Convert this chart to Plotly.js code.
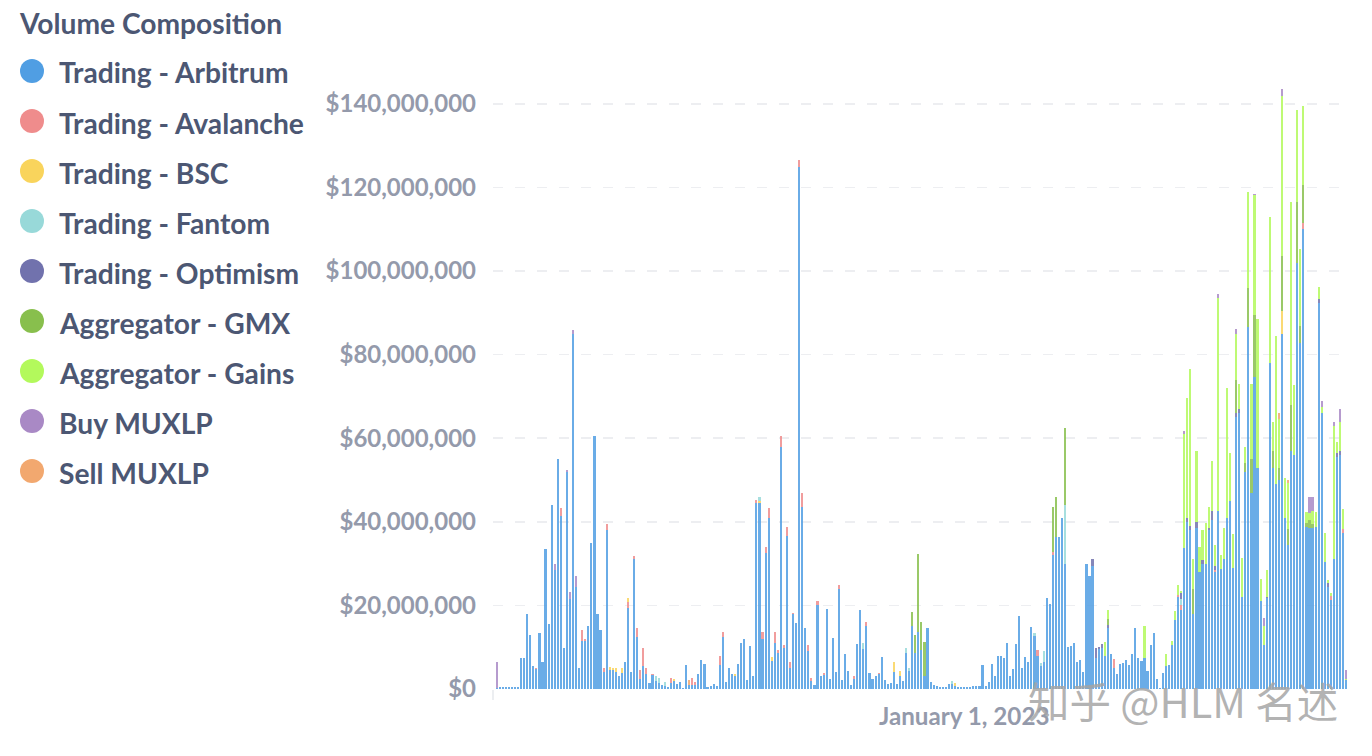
<!DOCTYPE html>
<html><head><meta charset="utf-8">
<script src="https://cdn.plot.ly/plotly-3.0.1.min.js"></script>
<style>html,body{margin:0;padding:0;background:#fff}#c{width:1372px;height:756px}</style></head>
<body><div id="c"></div>
<script>
const seriesNames=["Trading - Arbitrum","Trading - Avalanche","Trading - BSC","Trading - Fantom","Trading - Optimism","Aggregator - GMX","Aggregator - Gains","Buy MUXLP","Sell MUXLP"];
const seriesColors=["#509EE3","#EF8C8C","#F9D45C","#98D9D9","#7172AD","#88BF4D","#B3F95C","#A989C5","#F2A86F"];
const legendTitle="Volume Composition";
const yTicks=[0,20,40,60,80,100,120,140];
const firstDay="2022-08-01";
const xTickDay="2023-01-01", xTickLabel="January 1, 2023";
const watermark="知乎 @HLM 名述";

// daily volume in $M
const arbitrum=[
.3,.5,.5,.5,.5,.5,.5,.5,7.5,7.5,
18,13,5.5,4.8,13.5,6.5,33.5,15.5,44,28.5,
55,41.5,9.8,52,21.5,85,24.5,5,11.5,11.5,
15,35,60.5,18,14.2,4,38,4.5,4.5,4,
3,3.8,6.5,19.5,4,31,12.5,2.5,5.5,3.5,
1.4,3.4,2,1.5,1,.8,.4,1.5,1.8,1.2,
1.6,.3,5.8,1,1,1,3.6,7,6,.4,
.8,1.2,.8,5.8,12.5,1.7,5,3.7,3,6,
11,12,2.2,10.2,3,44.5,44.5,12,32.5,41,
6.8,11,8.5,58,9.8,36.5,5,18,15.8,125,
43.5,14.7,9,2,.9,20,3,3.4,19.2,2.5,
12.3,4,24,2.1,8.3,4.4,.9,2.3,10.7,18.8,
9.5,15,3.8,2.5,3,3.5,7.6,2.2,1.2,1.5,
4,1.3,3,1.8,8.5,4.3,15,8.5,13.6,9.3,
3,14.6,1.6,1,.8,.4,.4,.4,1.2,1.3,
.6,.4,.4,.4,.4,.4,.7,.8,.8,5.8,
.8,1.6,6,3,7.8,8,7.5,11,3,4.7,
10.8,17.4,5,7.7,6.4,14.8,12.8,8,5.5,6.5,
21.8,20.3,32,36.3,36.3,41,30,10,10.3,11,
6.5,7,4.1,30,27,29.5,7.5,9.5,9.8,8,
14.5,8.3,5,3.6,6,6.2,7,5.8,8.3,14.5,
7.3,6.7,7.5,4.2,10.5,13.3,2.5,.3,3.8,5.5,
5.8,10.5,16.5,22,19,33.7,40,38,18,38.5,
28,30,30,38,40.4,28,42.5,28.7,31,41,
45,29,65,66,22,52,86.6,47,74.6,53,
21,10.5,21.8,78,53,49,50,85,41,34.4,
57,56,102,82.8,110,38.7,38.5,38.5,38.7,92.4,
66,30.4,24.5,21.3,31,55.5,56,37.3,2.2];

// [day index, $M] for the days on which the smaller series show
const avalanche=[[13,.2],[21,1.8],[28,2.5],[29,.5],[35,1],[36,1.4],[43,1.3],[45,.8],[46,2.1],[47,2],[48,4.3],[49,1.5],[51,.2],[57,1.1],[64,1.6],[65,.7],[73,2.2],[74,1.2],[85,.7],[87,1.7],[88,1.5],[89,2.3],[91,2.7],[92,.8],[93,2.5],[94,.8],[95,2.3],[96,1.5],[97,.2],[99,1.5],[100,3.5],[102,1.5],[103,.6],[105,1],[107,.4],[112,1],[117,.7],[119,.2],[121,1],[125,.4],[177,1.3],[182,.9],[202,2.2],[223,.5],[224,1],[235,.4],[264,1.5],[273,1],[277,1]];
const bsc=[[37,.8],[38,.5],[39,1],[41,1.2],[43,1],[58,.6],[78,.5],[86,.5],[90,.8],[130,2.4],[132,1.3],[150,.8],[257,5.5]];
const fantom=[[52,1.1],[53,1.1],[55,.8],[86,1],[120,1.5],[134,1.3],[135,.8],[149,.5],[176,.7],[178,.7],[179,2.6],[186,14],[224,1.5]];
const optimism=[[195,1.5],[196,2.3],[197,.6],[198,.9],[200,.8],[224,1.5],[226,1],[227,1],[229,1.5],[231,.8],[233,.5],[234,2.2],[235,1],[242,1],[243,1],[252,.3],[269,1],[272,.8],[275,1],[276,1]];
const gmx=[[136,3.4],[137,4.5],[138,18.7],[139,6.7],[140,8.3],[182,10.7],[183,9.7],[186,18.5],[200,1.5],[228,6],[242,8],[245,2],[246,9.4],[247,8],[248,15],[254,4],[256,3],[257,13],[259,4],[260,11],[262,14.5],[263,4],[264,9],[265,1],[266,2],[267,1]];
const gains=[[199,3.2],[200,2.1],[212,7.5],[219,2.8],[221,1],[222,2.2],[223,2.5],[224,.5],[225,27.3],[226,28.7],[227,37.5],[228,7],[229,17],[230,6],[231,7.2],[232,9.7],[233,5],[234,12],[235,5],[236,51],[237,3.3],[238,7.6],[239,31],[240,11.4],[241,8],[242,11],[243,6],[244,9.3],[245,4],[246,23],[247,18],[248,28.5],[249,35.5],[250,5.3],[251,4.5],[252,6.3],[253,35],[254,7],[255,35.5],[256,11.5],[257,38.5],[258,9.4],[259,11],[260,48.5],[261,16.7],[262,22],[263,18.5],[264,19],[265,2.6],[266,1.5],[267,3],[268,3.6],[269,2.8],[270,1.5],[271,6.9],[272,.7],[273,.7],[274,32],[275,2.5],[276,7],[277,4.7],[278,.3]];
const buy=[[0,6.2],[19,1.4],[23,.4],[24,1.7],[25,.9],[26,2.5],[225,.7],[236,1],[242,1.2],[248,.3],[251,2],[257,1.5],[266,4],[267,3.5],[270,1.5],[274,.8],[276,3],[278,2]];
const sell=[[63,1.2],[256,1.5],[259,.6]];

const N=arbitrum.length;
const dayOf=i=>new Date(Date.parse(firstDay+"T00:00:00Z")+i*864e5).toISOString().slice(0,19).replace("T"," ");
const days=arbitrum.map((_,i)=>dayOf(i));
const expand=p=>{const a=new Array(N).fill(0);p.forEach(([i,v])=>a[i]=v);return a;};
const series=[arbitrum,expand(avalanche),expand(bsc),expand(fantom),expand(optimism),expand(gmx),expand(gains),expand(buy),expand(sell)];

const W=1372,H=756,ML=493,MR=24,MT=83,MB=67;
const px=x=>(x-ML)/(W-ML-MR), py=y=>1-(y-MT)/(H-MT-MB);
const textColor="#4C5773", axisColor="#949AAB";
const traces=series.map((v,k)=>({type:"bar",x:days,y:v.map(d=>d*1e6),name:seriesNames[k],
  marker:{color:seriesColors[k],opacity:0.85,line:{width:0}},hoverinfo:"x+y+name"}));

const annotations=[{xref:"paper",yref:"paper",x:px(17),y:py(23),xanchor:"left",yanchor:"middle",text:legendTitle,showarrow:false,
  font:{family:"Lato",size:28.2,weight:700,color:textColor}}];
const shapes=[{type:"line",xref:"paper",yref:"paper",x0:0,x1:0,y0:py(690),y1:py(700),line:{color:"#E6E8EC",width:1.5}}];
seriesNames.forEach((n,k)=>{
  const yc=74+50*k;
  annotations.push({xref:"paper",yref:"paper",x:px(57),y:py(yc-1.5),xanchor:"left",yanchor:"middle",text:n,showarrow:false,
    font:{family:"Lato",size:28.2,weight:700,color:textColor}});
  shapes.push({type:"circle",xref:"paper",yref:"paper",x0:px(20),x1:px(44),y0:py(yc+9),y1:py(yc-15),
    fillcolor:seriesColors[k],line:{width:0}});
});
annotations.push({xref:"paper",yref:"paper",x:px(1183),y:py(700),xanchor:"center",yanchor:"middle",text:watermark,showarrow:false,
  font:{family:"Noto Sans CJK SC",size:41.5,color:"rgba(165,165,165,0.85)"}});

Plotly.newPlot("c",traces,{
  width:W,height:H,margin:{l:ML,r:MR,t:MT,b:MB,pad:0},
  paper_bgcolor:"#fff",plot_bgcolor:"#fff",barmode:"stack",bargap:0.3,showlegend:false,
  xaxis:{type:"date",range:[dayOf(-1.2),dayOf(278.6)],showgrid:false,zeroline:false,showline:false,ticks:"",
    tickmode:"array",tickvals:[xTickDay],ticktext:[xTickLabel],ticklabelstandoff:11,
    tickfont:{family:"Lato",size:24.2,weight:700,color:axisColor}},
  yaxis:{range:[0,145e6],showgrid:true,gridcolor:"#EDEEF1",griddash:"10px,12px",gridwidth:1.5,zeroline:false,showline:false,ticks:"",
    tickmode:"array",tickvals:yTicks.map(v=>v*1e6),ticktext:yTicks.map(v=>"$"+(v*1e6).toLocaleString("en-US")),
    ticklabelstandoff:16,tickfont:{family:"Lato",size:24,weight:700,color:axisColor}},
  annotations,shapes,
  font:{family:"Lato"}
},{displayModeBar:false,staticPlot:true});
</script></body></html>
